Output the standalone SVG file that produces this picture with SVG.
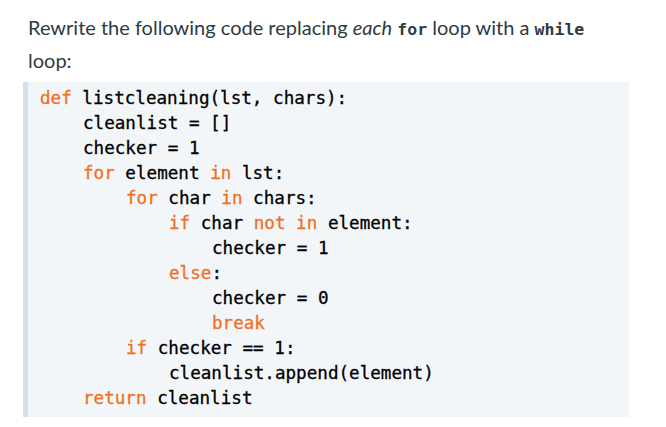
<svg xmlns="http://www.w3.org/2000/svg" width="666" height="427" viewBox="0 0 666 427">
<style>
.p{font-family:Lato,"Liberation Sans",sans-serif;font-size:20px;fill:#2d3b45}
.ic{font-family:"DejaVu Sans Mono","Liberation Mono",monospace;font-size:16.5px;font-weight:bold;fill:#2d3b45}
.c{font-family:"DejaVu Sans Mono","Liberation Mono",monospace;font-size:17.6px;fill:#000;stroke:#000;stroke-width:0.3}
.k{fill:#f0701f;stroke:#f0701f}
</style>
<rect width="666" height="427" fill="#fff"/>
<text class="p" x="28" y="35">Rewrite the following code replacing <tspan font-style="italic">each</tspan> <tspan class="ic">for</tspan> loop with a <tspan class="ic">while</tspan></text>
<text class="p" x="28" y="68">loop:</text>
<rect x="23" y="82" width="606" height="335" fill="#f3f6f9"/>
<rect x="23" y="82" width="5" height="335" fill="#d5dfeb"/>
<g class="c">
<text x="40" y="104"><tspan class="k">def</tspan> listcleaning(lst, chars):</text>
<text x="83" y="129">cleanlist = []</text>
<text x="83" y="154">checker = 1</text>
<text x="83" y="179"><tspan class="k">for</tspan> element <tspan class="k">in</tspan> lst:</text>
<text x="126" y="204"><tspan class="k">for</tspan> char <tspan class="k">in</tspan> chars:</text>
<text x="169" y="229"><tspan class="k">if</tspan> char <tspan class="k">not in</tspan> element:</text>
<text x="212" y="254">checker = 1</text>
<text x="169" y="279"><tspan class="k">else</tspan>:</text>
<text x="212" y="304">checker = 0</text>
<text x="212" y="329" class="k">break</text>
<text x="126" y="354"><tspan class="k">if</tspan> checker == 1:</text>
<text x="169" y="379">cleanlist.append(element)</text>
<text x="83" y="404"><tspan class="k">return</tspan> cleanlist</text>
</g>
</svg>
